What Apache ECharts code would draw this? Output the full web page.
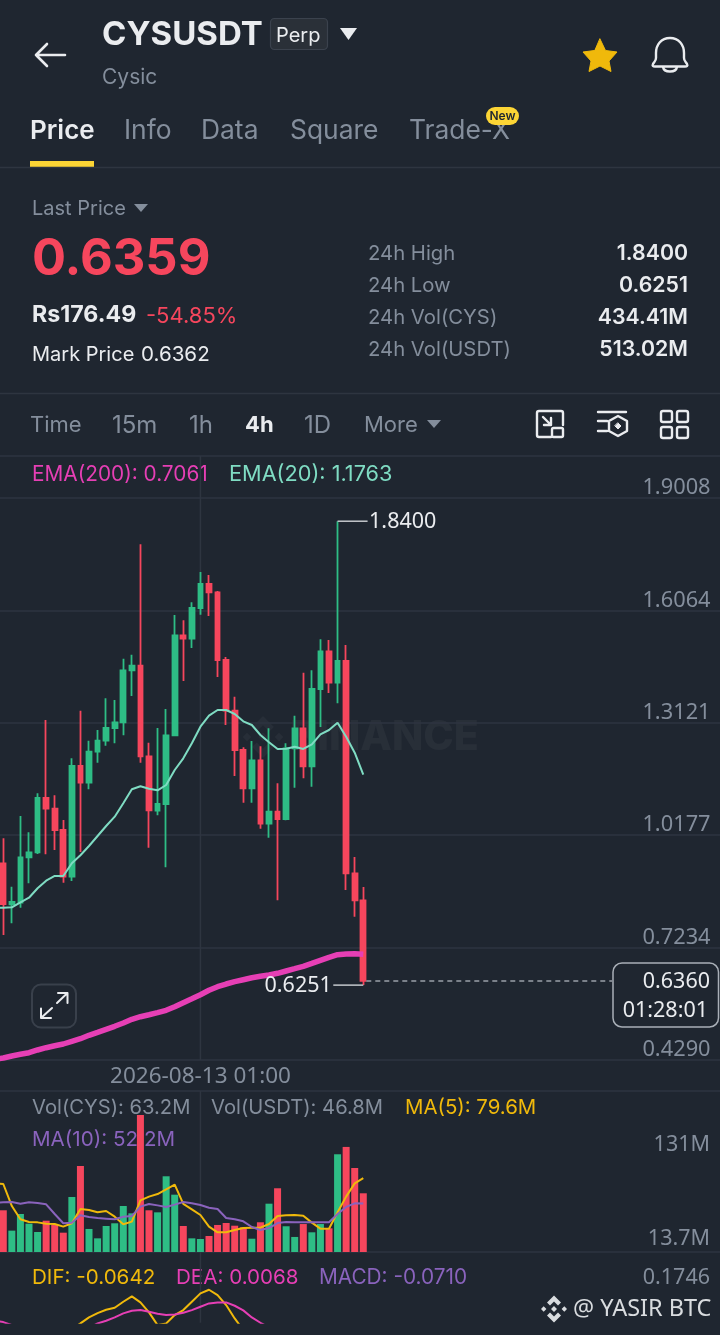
<!DOCTYPE html>
<html>
<head>
<meta charset="utf-8">
<style>html,body{margin:0;padding:0;background:#1f2630}#c{width:720px;height:1335px}</style>
<script src="https://cdn.jsdelivr.net/npm/echarts@6/dist/echarts.min.js"></script>
</head>
<body>
<div id="c"></div>
<script>
const times = [
'08-09 01:00','08-09 05:00','08-09 09:00','08-09 13:00','08-09 17:00','08-09 21:00',
'08-10 01:00','08-10 05:00','08-10 09:00','08-10 13:00','08-10 17:00','08-10 21:00',
'08-11 01:00','08-11 05:00','08-11 09:00','08-11 13:00','08-11 17:00','08-11 21:00',
'08-12 01:00','08-12 05:00','08-12 09:00','08-12 13:00','08-12 17:00','08-12 21:00',
'08-13 01:00','08-13 05:00','08-13 09:00','08-13 13:00','08-13 17:00','08-13 21:00',
'08-14 01:00','08-14 05:00','08-14 09:00','08-14 13:00','08-14 17:00','08-14 21:00',
'08-15 01:00','08-15 05:00','08-15 09:00','08-15 13:00','08-15 17:00','08-15 21:00',
'08-16 01:00','08-16 05:00'];
const opens = [0.860,0.9441,0.8368,0.8410,0.9598,0.9729,1.1152,1.0871,1.0313,0.9090,1.1990,1.1552,1.2364,1.2652,1.2985,1.3134,1.4496,1.4616,1.2244,1.0819,1.0994,1.2794,1.5412,1.5323,1.6127,1.6756,1.6539,1.4766,1.3438,1.2409,1.1406,1.2139,1.0478,1.0793,1.0602,1.2453,1.2977,1.1982,1.4006,1.4993,1.4171,1.4739,0.9180,0.8472];
const closes = [0.900,0.8375,0.8428,0.9598,0.9729,1.1152,1.0871,1.0313,0.9090,1.1990,1.1552,1.2364,1.2652,1.2985,1.3134,1.4496,1.4616,1.2244,1.0829,1.0994,1.2794,1.5412,1.5323,1.6127,1.6756,1.6539,1.4766,1.3438,1.2409,1.1406,1.2139,1.0478,1.0793,1.0602,1.2453,1.2977,1.1982,1.4006,1.4993,1.4171,1.4739,0.9180,0.8472,0.6360];
const lows = [0.840,0.7564,0.7870,0.8279,0.8918,0.9685,0.9677,0.9790,0.8933,0.8978,0.9737,1.1379,1.2076,1.2521,1.2584,1.2794,1.3823,1.2076,0.9850,1.0698,0.9337,1.2775,1.4216,1.5080,1.5952,1.5918,1.4320,1.3063,1.1728,1.1028,1.1028,1.0348,1.0112,0.8472,1.0568,1.1421,1.1667,1.1447,1.3011,1.3901,1.3632,0.8742,0.8043,0.6251];
const highs = [0.930,1.0096,0.8829,1.0680,1.0253,1.1275,1.3194,1.1222,1.0575,1.2191,1.3438,1.2652,1.2932,1.3763,1.3718,1.4800,1.4904,1.7796,1.2600,1.2985,1.3482,1.5944,1.5805,1.6277,1.7070,1.6992,1.6573,1.4844,1.3804,1.2479,1.2644,1.2505,1.2977,1.1537,1.2584,1.3307,1.4433,1.4496,1.5308,1.5290,1.8400,1.5158,0.9606,0.8821];
const ema20 = [0.8271,0.8279,0.8289,0.8420,0.8540,0.8787,0.8986,0.9109,0.9109,0.9441,0.9651,0.9894,1.0156,1.0418,1.0662,1.1013,1.1379,1.1458,1.1395,1.1353,1.1492,1.1885,1.2191,1.2584,1.3019,1.3307,1.3456,1.3456,1.3351,1.3160,1.3063,1.2801,1.2610,1.2435,1.2443,1.2495,1.2435,1.2558,1.2820,1.2932,1.3123,1.2757,1.2338,1.1763];
const ema200 = [0.4316,0.4342,0.4395,0.4439,0.4481,0.4552,0.4612,0.4664,0.4709,0.4780,0.4848,0.4937,0.5015,0.5094,0.5173,0.5259,0.5356,0.5424,0.5476,0.5529,0.5592,0.5686,0.5791,0.5895,0.6000,0.6115,0.6210,0.6280,0.6341,0.6393,0.6445,0.6482,0.6516,0.6561,0.6621,0.6681,0.6744,0.6822,0.6901,0.6980,0.7048,0.7066,0.7074,0.7061];
const volumes = [30,44.9,23.0,40.9,30.5,21.5,33.7,29.1,20.8,59.2,92.6,24.8,14.7,28.0,30.9,49.5,41.6,147.5,44.9,42.7,81.5,61.7,28.0,14.7,14.0,17.2,29.1,31.2,28.3,26.6,14.3,32.0,52.0,68.6,27.7,16.2,30.1,21.2,30.1,25.5,105.2,113.1,90.4,63.2];
const ma5 = [73.9,73.2,49.5,35.2,32.3,31.9,30.5,30.1,27.3,30.9,46.3,45.2,42.7,44.1,38.0,29.8,32.7,55.6,59.6,62.4,67.5,72.5,51.7,45.9,39.8,27.3,21.2,21.2,23.7,25.8,26.2,26.2,30.1,38.8,39.5,39.8,39.1,31.6,25.1,25.1,42.7,59.6,73.9,79.6];
const ma10 = [53.1,53.5,53.8,52.0,53.5,52.8,51.3,40.9,30.9,31.6,39.5,37.7,36.6,35.9,35.2,38.0,38.8,48.8,51.7,50.2,48.5,51.0,53.8,52.4,50.6,47.7,46.3,36.6,35.2,33.0,26.9,23.7,25.8,31.2,32.3,32.0,32.0,32.0,32.0,32.0,40.9,48.5,52.4,52.2];
const dif = [0.030,0.025,0.022,0.018,0.016,0.014,0.015,0.016,0.018,0.024,0.0370,0.0505,0.0602,0.0677,0.0721,0.0856,0.0975,0.0841,0.0617,0.0333,0.0370,0.0557,0.0669,0.0856,0.1043,0.1125,0.1005,0.0781,0.0482,0.0221,0.010,-0.005,-0.020,-0.030,-0.030,-0.020,-0.005,0.010,0.025,0.030,0.030,0.010,-0.030,-0.0642];
const dea = [0.0430,0.0400,0.0333,0.030,0.027,0.024,0.022,0.021,0.020,0.021,0.023,0.027,0.0370,0.0430,0.0505,0.0595,0.0654,0.0669,0.0632,0.0587,0.0557,0.0572,0.0609,0.0669,0.0744,0.0819,0.0841,0.0841,0.0766,0.0662,0.0505,0.0385,0.028,0.020,0.014,0.010,0.006,0.006,0.008,0.012,0.016,0.018,0.017,0.0068];
const priceTicks = [0.4290,0.7234,1.0177,1.3121,1.6064,1.9008];
const volTickLabels = ['131M','13.7M'];
const macdTickLabels = ['0.1746'];
const crosshairTime = '08-13 01:00';
const priceNotes = [
  {time:'08-15 17:00', value:1.8400, text:'1.8400'},
  {time:'08-16 05:00', value:0.6251, text:'0.6251'}
];
const lastClose = 0.6360;

const UP='#2ebd85', DOWN='#f6465d', GRID='#2e3540', GREY='#848e9c', WHITE='#eaecef';
const YEL='#f0b90b', PINK='#e63fb5', MINT='#7fdcc3', PURP='#8a63bd';
const UI="Inter, 'Noto Sans', sans-serif", NUM="'Noto Sans', sans-serif";

const categories = times.concat(Array.from({length:42},(_, k)=>'+'+k));
const candles = opens.map((o,i)=>[o,closes[i],lows[i],highs[i]]);
const volumeData = volumes.map((v,i)=>({value:v,itemStyle:{color:closes[i]>=opens[i]?UP:DOWN}}));

function T(x,y,text,size,fill,o){o=o||{};return {type:'text',x:x,y:y+1.5,z:o.z||0,silent:true,style:{text:text,fontSize:size,fill:fill,fontFamily:o.font||UI,fontWeight:o.weight||400,align:o.align||'left',verticalAlign:'middle'}};}
let shapeCount=0;
function P(d,o){o=o||{};const name='uiPath'+(shapeCount++);
  echarts.graphic.registerShape(name,echarts.graphic.extendPath(d,{}));
  return {type:name,silent:true,z:o.z||0,style:{fill:o.fill||'none',stroke:o.stroke||null,lineWidth:o.lw||2,lineCap:'round',lineJoin:'round'}};}
function R(x,y,w,h,r,o){o=o||{};return {type:'rect',silent:true,z:o.z||0,shape:{x:x,y:y,width:w,height:h,r:r},style:{fill:o.fill||'none',stroke:o.stroke||null,lineWidth:o.lw||2}};}
function H(y,c){return {type:'line',silent:true,z:0,shape:{x1:0,y1:y,x2:720,y2:y},style:{stroke:c||GRID,lineWidth:1.5}};}
function logo(cx,cy,s){
  const pt=(a,b)=>(cx+a*s).toFixed(1)+' '+(cy+b*s).toFixed(1);
  const poly=a=>'M'+a.map(p=>pt(p[0],p[1])).join('L')+'Z';
  return [
    poly([[0,-1],[.52,-.48],[.3,-.26],[0,-.56],[-.3,-.26],[-.52,-.48]]),
    poly([[0,1],[.52,.48],[.3,.26],[0,.56],[-.3,.26],[-.52,.48]]),
    poly([[0,-.22],[.22,0],[0,.22],[-.22,0]]),
    poly([[-.76,-.2],[-.56,0],[-.76,.2],[-.96,0]]),
    poly([[.76,-.2],[.96,0],[.76,.2],[.56,0]])
  ].join('');
}

const graphicEls = [
  P('M36 55 L65 55 M47 44 L36 55 L47 66',{stroke:WHITE,lw:2.6}),
  T(102,34,'CYSUSDT',33,WHITE,{weight:700}),
  R(270.5,18.5,57,31,4,{fill:'#2a3038',stroke:'#3b424d',lw:1.2}),
  T(276,34,'Perp',20,WHITE),
  P('M340 28 L357 28 L348.5 40 Z',{fill:WHITE}),
  T(102,76,'Cysic',21,GREY),
  P('M600 39 L605.5 50.5 L617 52 L609 61 L611 71.5 L600 66 L589 71.5 L591 61 L583 52 L594.5 50.5 Z',{fill:'#f0b90b',stroke:'#f0b90b',lw:1}),
  P('M670 38 C661 38 656 45 656 53 L656 58 C656 61 654 62 653 64 C652 66 653 66.5 655 66.5 L685 66.5 C687 66.5 688 66 687 64 C686 62 684 61 684 58 L684 53 C684 45 679 38 670 38 Z M663 67 C664 73 676 73 677 67',{stroke:WHITE,lw:2.4}),
  T(30,129.5,'Price',26,WHITE,{weight:600}),
  T(124,129.5,'Info',26.4,GREY),
  T(201,129.5,'Data',26.4,GREY),
  T(290,129.5,'Square',26.4,GREY),
  T(409,129.5,'Trade-X',26.4,GREY),
  R(486,107,33,18,9,{fill:'#fcd535'}),
  T(502.5,115,'New',12,'#1f2630',{align:'center',weight:600}),
  R(30,161,64,6,0,{fill:'#fcd535'}),
  H(167.5),
  T(32,207,'Last Price',20,GREY),
  P('M134 204 L148 204 L141 212 Z',{fill:GREY}),
  T(32,258.5,'0.6359',50.5,DOWN,{weight:700}),
  T(32,314,'Rs176.49',23.2,WHITE,{weight:700}),
  T(146,314.5,'-54.85%',22,DOWN),
  T(32,353,'Mark Price',20,WHITE),
  T(141,353,'0.6362',20.6,WHITE),
  T(368,252,'24h High',20.3,GREY),T(688,252,'1.8400',21.3,WHITE,{align:'right',weight:600}),
  T(368,284,'24h Low',20.3,GREY),T(688,284,'0.6251',21.3,WHITE,{align:'right',weight:600}),
  T(368,316,'24h Vol(CYS)',20.3,GREY),T(688,316,'434.41M',21.3,WHITE,{align:'right',weight:600}),
  T(368,348,'24h Vol(USDT)',20.3,GREY),T(688,348,'513.02M',21.3,WHITE,{align:'right',weight:600}),
  H(393.5),
  T(30,424,'Time',22,GREY),T(112,424,'15m',24,GREY),T(189,424,'1h',24,GREY),
  T(245,424,'4h',22,WHITE,{weight:700}),T(304,424,'1D',24,GREY),T(364,424,'More',22,GREY),
  P('M427 420 L441 420 L434 428 Z',{fill:GREY}),
  P('M551 437 L539 437 Q537 437 537 435 L537 413 Q537 411 539 411 L561 411 Q563 411 563 413 L563 425 M543 417 L551 425 M551 418 L551 425 L544 425',{stroke:WHITE,lw:2.4}),
  R(552,428,11,9,1.5,{stroke:WHITE,lw:2.4}),
  P('M598 412 L626 412 M598 421 L607 421 M598 431 L607 431 M618 416 L627 421 L627 431 L618 436 L609 431 L609 421 Z',{stroke:WHITE,lw:2.4}),
  P('M618 423 L621 426 L618 429 L615 426 Z',{fill:WHITE,stroke:WHITE,lw:1}),
  R(661,411,11,11,2,{stroke:WHITE,lw:2.4}),R(677,411,11,11,2,{stroke:WHITE,lw:2.4}),
  R(661,427,11,11,2,{stroke:WHITE,lw:2.4}),R(677,427,11,11,2,{stroke:WHITE,lw:2.4}),
  H(456),
  T(32,473,'EMA(200): 0.7061',20.8,PINK),
  T(229,473,'EMA(20): 1.1763',21.7,MINT),
  P(logo(263,737,21),{fill:'rgba(255,255,255,0.04)'}),
  T(290,736,'BINANCE',41,'rgba(255,255,255,0.045)',{weight:800}),
  R(32,984.5,44,43,9,{stroke:'#39404b',lw:2}),
  P('M41 1018 L52 1008 M57 1003 L67.5 993 M58 993 L67.5 993 L67.5 1003 M41 1008.5 L41 1018 L51 1018',{stroke:WHITE,lw:2}),
  R(613,963,105.5,64,9,{fill:'#1f2630',stroke:'#a9afb7',lw:1.5,z:9}),
  T(710,980.5,'0.6360',21.5,WHITE,{align:'right',font:NUM,z:10}),
  T(708,1009,'01:28:01',21.5,WHITE,{align:'right',font:NUM,z:10}),
  T(200.5,1075,'2026-08-13 01:00',22.5,GREY,{align:'center',font:NUM}),
  H(1091),
  T(32,1106,'Vol(CYS): 63.2M',20.2,GREY),
  T(211,1106,'Vol(USDT): 46.8M',20.2,GREY),
  T(405,1106,'MA(5): 79.6M',20.4,YEL),
  T(32,1138,'MA(10): 52.2M',20.6,PURP),
  T(710,1143,volTickLabels[0],21.5,GREY,{align:'right',font:NUM}),
  T(710,1237,volTickLabels[1],21.5,GREY,{align:'right',font:NUM}),
  H(1252),
  T(32,1276,'DIF: -0.0642',20.6,YEL),
  T(176,1276,'DEA: 0.0068',20.6,PINK),
  T(319,1276,'MACD: -0.0710',20.8,PURP),
  T(710,1276,macdTickLabels[0],21.5,GREY,{align:'right',font:NUM}),
  P(logo(554,1309,13.5),{fill:'#d9dcdf',z:20}),
  T(573,1308,'@ YASIR BTC',23.5,'#d9dcdf',{font:NUM,z:20})
];

function crossSeries(xi,yi,y1,y2){
  return {type:'custom',xAxisIndex:xi,yAxisIndex:yi,z:1,silent:true,data:[[crosshairTime,0]],encode:{x:0,y:1},
    renderItem:(p,api)=>{
      const x=api.coord([api.value(0),0])[0];
      return {type:'line',silent:true,shape:{x1:x,y1:y1,x2:x,y2:y2},style:{stroke:GRID,lineWidth:1.5}};
    }};
}
const xBase={type:'category',data:categories,show:false,boundaryGap:true};
const option={
  animation:false,
  backgroundColor:'#1f2630',
  graphic:{elements:graphicEls},
  tooltip:{show:false},
  grid:[
    {left:-9.57,top:498,width:737.14,height:562,outerBoundsMode:'none'},
    {left:-9.57,top:1091,width:737.14,height:161,outerBoundsMode:'none'},
    {left:-9.57,top:1252,width:737.14,height:70.67,outerBoundsMode:'none'}
  ],
  xAxis:[
    Object.assign({gridIndex:0},xBase),
    Object.assign({gridIndex:1},xBase),
    Object.assign({gridIndex:2},xBase)
  ],
  yAxis:[
    {gridIndex:0,type:'value',position:'right',min:priceTicks[0],max:priceTicks[5],
     axisLine:{show:false},axisTick:{show:false,customValues:priceTicks},
     splitLine:{show:true,lineStyle:{color:GRID,width:1.5}},
     axisLabel:{inside:true,customValues:priceTicks,margin:17,verticalAlign:'bottom',color:GREY,fontSize:21.8,fontFamily:NUM,lineHeight:20,formatter:v=>v.toFixed(4)}},
    {gridIndex:1,type:'value',min:0,max:173.3,show:false,splitLine:{show:false}},
    {gridIndex:2,type:'value',min:0.0387,max:0.197,show:false,splitLine:{show:false}}
  ],
  series:[
    crossSeries(0,0,456,1060),
    crossSeries(1,1,1091,1252),
    crossSeries(2,2,1252,1322.7),
    {name:'K',type:'candlestick',xAxisIndex:0,yAxisIndex:0,z:2,data:candles,barWidth:5.2,
     itemStyle:{color:UP,color0:DOWN,borderColor:UP,borderColor0:DOWN,borderWidth:1.8}},
    {name:'EMA(20)',type:'line',xAxisIndex:0,yAxisIndex:0,z:3,data:ema20,showSymbol:false,lineStyle:{color:MINT,width:2}},
    {name:'EMA(200)',type:'line',xAxisIndex:0,yAxisIndex:0,z:3,data:ema200,showSymbol:false,lineStyle:{color:PINK,width:5.5}},
    {name:'Notes',type:'custom',xAxisIndex:0,yAxisIndex:0,z:6,silent:true,
     data:priceNotes.map(n=>[n.time,n.value]),encode:{x:0,y:1},
     renderItem:(p,api)=>{
       const c=api.coord([api.value(0),api.value(1)]);
       const n=priceNotes[p.dataIndex];
       const right=p.dataIndex===0;
       const x2=right?c[0]+30:c[0]-30;
       return {type:'group',silent:true,children:[
         {type:'line',silent:true,shape:{x1:c[0],y1:c[1],x2:x2,y2:c[1]},style:{stroke:'#c4c8cd',lineWidth:1.5}},
         {type:'text',silent:true,x:right?x2+1.5:x2-1.5,y:c[1]+1,style:{text:n.text,fill:WHITE,fontSize:21.5,fontFamily:NUM,align:right?'left':'right',verticalAlign:'middle'}}
       ]};
     }},
    {name:'Last',type:'custom',xAxisIndex:0,yAxisIndex:0,z:5,silent:true,
     data:[[times[times.length-1],lastClose]],encode:{x:0,y:1},
     renderItem:(p,api)=>{
       const c=api.coord([api.value(0),api.value(1)]);
       return {type:'line',silent:true,shape:{x1:c[0]+3,y1:c[1],x2:612,y2:c[1]},style:{stroke:'#9aa0a8',lineWidth:1.4,lineDash:[5,4]}};
     }},
    {name:'Vol',type:'bar',xAxisIndex:1,yAxisIndex:1,z:2,data:volumeData,barWidth:7},
    {name:'MA(5)',type:'line',xAxisIndex:1,yAxisIndex:1,z:3,data:ma5,showSymbol:false,lineStyle:{color:YEL,width:2}},
    {name:'MA(10)',type:'line',xAxisIndex:1,yAxisIndex:1,z:3,data:ma10,showSymbol:false,lineStyle:{color:PURP,width:2}},
    {name:'DIF',type:'line',xAxisIndex:2,yAxisIndex:2,z:3,data:dif,showSymbol:false,lineStyle:{color:YEL,width:2}},
    {name:'DEA',type:'line',xAxisIndex:2,yAxisIndex:2,z:3,data:dea,showSymbol:false,lineStyle:{color:PINK,width:2}}
  ]
};
const chart=echarts.init(document.getElementById('c'),null,{renderer:'canvas',width:720,height:1335});
chart.setOption(option);
</script>
</body>
</html>
